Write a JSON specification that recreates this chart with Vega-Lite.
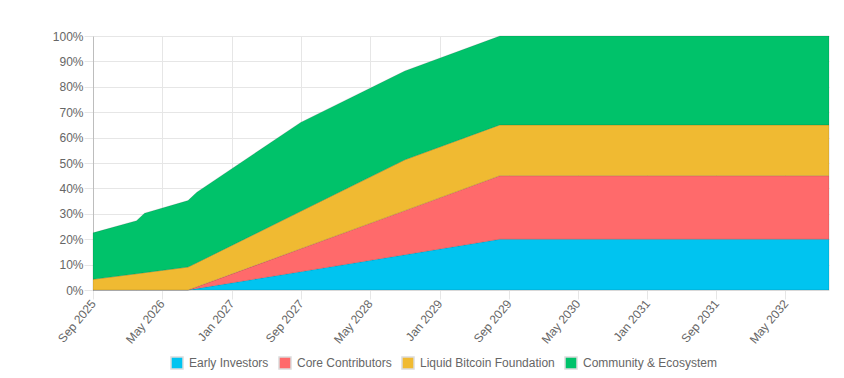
{
  "$schema": "https://vega.github.io/schema/vega-lite/v6.json",
  "width": 736,
  "height": 254,
  "autosize": {"type": "none"},
  "padding": {"left": 93, "top": 36, "right": 15, "bottom": 88},
  "background": "white",
  "config": {
    "font": "Liberation Sans",
    "view": {"stroke": null},
    "axis": {
      "labelFont": "Liberation Sans",
      "labelFontSize": 12,
      "labelColor": "#666666",
      "gridColor": "#e6e6e6",
      "gridWidth": 1,
      "tickColor": "#e6e6e6",
      "tickSize": 9,
      "domainColor": "#bdbdbd",
      "title": null
    }
  },
  "data": {
    "values": [
      {"date": "2025-09-01", "group": "Early Investors", "pct": 0},
      {"date": "2026-02-01", "group": "Early Investors", "pct": 0},
      {"date": "2026-03-01", "group": "Early Investors", "pct": 0},
      {"date": "2026-08-01", "group": "Early Investors", "pct": 0},
      {"date": "2026-09-01", "group": "Early Investors", "pct": 0.56},
      {"date": "2027-09-01", "group": "Early Investors", "pct": 7.22},
      {"date": "2028-09-01", "group": "Early Investors", "pct": 13.89},
      {"date": "2029-08-01", "group": "Early Investors", "pct": 20},
      {"date": "2032-10-01", "group": "Early Investors", "pct": 20},
      {"date": "2025-09-01", "group": "Core Contributors", "pct": 0},
      {"date": "2026-02-01", "group": "Core Contributors", "pct": 0},
      {"date": "2026-03-01", "group": "Core Contributors", "pct": 0},
      {"date": "2026-08-01", "group": "Core Contributors", "pct": 0},
      {"date": "2026-09-01", "group": "Core Contributors", "pct": 0.69},
      {"date": "2027-09-01", "group": "Core Contributors", "pct": 9.03},
      {"date": "2028-09-01", "group": "Core Contributors", "pct": 17.36},
      {"date": "2029-08-01", "group": "Core Contributors", "pct": 25},
      {"date": "2032-10-01", "group": "Core Contributors", "pct": 25},
      {"date": "2025-09-01", "group": "Liquid Bitcoin Foundation", "pct": 4.2},
      {"date": "2026-02-01", "group": "Liquid Bitcoin Foundation", "pct": 6.4},
      {"date": "2026-03-01", "group": "Liquid Bitcoin Foundation", "pct": 6.83},
      {"date": "2026-08-01", "group": "Liquid Bitcoin Foundation", "pct": 9.03},
      {"date": "2026-09-01", "group": "Liquid Bitcoin Foundation", "pct": 9.47},
      {"date": "2027-09-01", "group": "Liquid Bitcoin Foundation", "pct": 14.74},
      {"date": "2028-09-01", "group": "Liquid Bitcoin Foundation", "pct": 20},
      {"date": "2029-08-01", "group": "Liquid Bitcoin Foundation", "pct": 20},
      {"date": "2032-10-01", "group": "Liquid Bitcoin Foundation", "pct": 20},
      {"date": "2025-09-01", "group": "Community & Ecosystem", "pct": 18.3},
      {"date": "2026-02-01", "group": "Community & Ecosystem", "pct": 20.9},
      {"date": "2026-03-01", "group": "Community & Ecosystem", "pct": 23.4},
      {"date": "2026-08-01", "group": "Community & Ecosystem", "pct": 26.2},
      {"date": "2026-09-01", "group": "Community & Ecosystem", "pct": 27.8},
      {"date": "2027-09-01", "group": "Community & Ecosystem", "pct": 35},
      {"date": "2028-09-01", "group": "Community & Ecosystem", "pct": 35},
      {"date": "2029-08-01", "group": "Community & Ecosystem", "pct": 35},
      {"date": "2032-10-01", "group": "Community & Ecosystem", "pct": 35}
    ]
  },
  "transform": [
    {"calculate": "indexof(['Early Investors', 'Core Contributors', 'Liquid Bitcoin Foundation', 'Community & Ecosystem'], datum.group)", "as": "stackOrder"}
  ],
  "mark": {"type": "area", "stroke": "#000000", "strokeOpacity": 0.12, "strokeWidth": 1, "opacity": 1},
  "encoding": {
    "x": {
      "field": "date",
      "type": "temporal",
      "scale": {
        "type": "utc",
        "domain": [
          {"year": 2025, "month": 9, "date": 1, "utc": true},
          {"year": 2032, "month": 10, "date": 1, "utc": true}
        ]
      },
      "axis": {
        "values": [
          {"year": 2025, "month": 9, "date": 1, "utc": true},
          {"year": 2026, "month": 5, "date": 1, "utc": true},
          {"year": 2027, "month": 1, "date": 1, "utc": true},
          {"year": 2027, "month": 9, "date": 1, "utc": true},
          {"year": 2028, "month": 5, "date": 1, "utc": true},
          {"year": 2029, "month": 1, "date": 1, "utc": true},
          {"year": 2029, "month": 9, "date": 1, "utc": true},
          {"year": 2030, "month": 5, "date": 1, "utc": true},
          {"year": 2031, "month": 1, "date": 1, "utc": true},
          {"year": 2031, "month": 9, "date": 1, "utc": true},
          {"year": 2032, "month": 5, "date": 1, "utc": true}
        ],
        "format": "%b %Y",
        "labelAngle": -50,
        "labelAlign": "right",
        "labelBaseline": "middle",
        "labelPadding": 2,
        "labelOverlap": false,
        "grid": true,
        "domain": false
      }
    },
    "y": {
      "field": "pct",
      "type": "quantitative",
      "stack": "zero",
      "scale": {"domain": [0, 100], "nice": false},
      "axis": {
        "values": [0, 10, 20, 30, 40, 50, 60, 70, 80, 90, 100],
        "labelExpr": "datum.value + '%'",
        "labelPadding": 1,
        "grid": true,
        "domain": true
      }
    },
    "order": {"field": "stackOrder", "type": "quantitative", "sort": "ascending"},
    "color": {
      "field": "group",
      "type": "nominal",
      "sort": ["Early Investors", "Core Contributors", "Liquid Bitcoin Foundation", "Community & Ecosystem"],
      "scale": {
        "domain": ["Early Investors", "Core Contributors", "Liquid Bitcoin Foundation", "Community & Ecosystem"],
        "range": ["#00c4f0", "#ff6a6b", "#f0ba32", "#00c26a"]
      },
      "legend": {
        "title": null,
        "orient": "none",
        "direction": "horizontal",
        "legendX": 77,
        "legendY": 320,
        "padding": 0,
        "symbolType": "square",
        "symbolSize": 144,
        "symbolStrokeColor": "#dcdcdc",
        "symbolStrokeWidth": 1.5,
        "symbolOpacity": 1,
        "labelFont": "Liberation Sans",
        "labelFontSize": 12,
        "labelColor": "#666666",
        "labelOffset": 5,
        "columnPadding": 7
      }
    }
  }
}
